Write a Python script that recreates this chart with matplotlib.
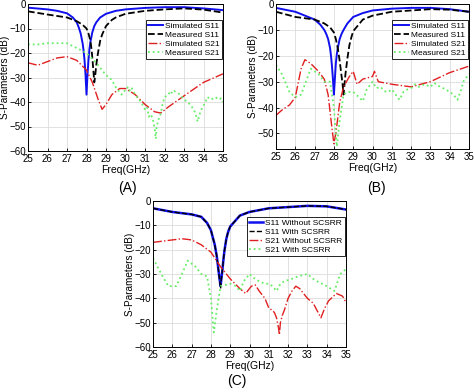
import matplotlib.pyplot as plt

plt.rcParams['font.family'] = ['Liberation Sans', 'DejaVu Sans']

# ---------- panel A ----------
a_s11_sim_f = [25, 26, 26.5, 27, 27.3, 27.5, 27.6, 27.7, 27.8, 27.85, 27.9, 27.95, 28.0, 28.05, 28.1, 28.15, 28.2, 28.3,
               28.4, 28.5, 28.7, 29, 29.5, 30, 31, 32, 33, 34, 35]
a_s11_sim = [-1.5, -2.2, -2.8, -3.8, -5.5, -7.5, -9.5, -12, -16, -19, -23, -29, -37, -29, -23, -18.5, -15.5, -11.5,
             -9, -7.5, -5.5, -4, -2.8, -2.2, -1.6, -1.3, -1.3, -1.8, -2.5]
a_s11_meas_f = [25, 26, 27, 27.5, 27.8, 28, 28.1, 28.2, 28.25, 28.3, 28.35, 28.4, 28.45, 28.5, 28.55, 28.6, 28.7, 28.8,
                29, 29.3, 29.5, 30, 31, 32, 33, 34, 35]
a_s11_meas = [-3, -4.3, -5.5, -7, -8.5, -10, -12, -15, -18, -22, -27, -32, -29, -25, -22, -19.5, -15, -12.5,
              -9, -6.5, -5.5, -4, -2.8, -2.2, -1.8, -2.3, -3.5]
a_s21_sim_f = [25, 25.5, 26, 26.5, 27, 27.5, 28, 28.3, 28.6, 28.8, 29.0, 29.3, 29.7, 30.0, 30.5, 31, 31.5, 31.8, 32.2, 33, 34, 35]
a_s21_sim = [-24, -25, -23.5, -22, -21.5, -23, -27, -32, -39, -43, -41, -37, -34.5, -34.5, -37, -41, -44, -44.5, -42, -37.5, -32, -28.5]
a_s21_meas_f = [25, 25.5, 26, 26.5, 27, 27.5, 28, 28.5, 29, 29.3, 29.5, 29.8, 30.0, 30.1, 30.2, 30.3, 30.5, 30.8, 31, 31.1, 31.2, 31.3, 31.4,
                31.5, 31.55, 31.6, 31.7, 31.8, 31.9, 32.0, 32.2, 32.3, 32.4, 32.5, 32.6, 32.8, 33, 33.2, 33.5, 33.6, 33.7, 33.8,
                33.9, 34.1, 34.2, 34.4, 34.6, 34.8, 34.9, 35]
a_s21_meas = [-16.5, -16.5, -16, -16, -16, -18, -20, -24, -29, -31, -34, -37, -35, -34, -35.5, -34, -37, -40, -43, -42, -46, -45, -47,
              -51, -55, -50, -47, -45, -41, -38, -37, -35.5, -36.5, -35.5, -36, -37, -39, -40, -43, -45, -48, -45,
              -43, -40, -38, -39, -38, -39, -38.5, -40]

# ---------- panel B ----------
b_s11_sim_f = [25, 26, 26.5, 27, 27.3, 27.5, 27.6, 27.7, 27.8, 27.85, 27.9, 27.95, 28.0, 28.05, 28.1, 28.15, 28.2, 28.3,
               28.4, 28.5, 28.7, 29, 29.5, 30, 31, 32, 33, 34, 35]
b_s11_sim = [-1.5, -3, -4.5, -6, -8, -10, -11.5, -13.5, -17, -20, -24, -29, -35, -29, -23, -19.5, -17, -13.5,
             -11.5, -10, -7.5, -5, -3.5, -2.5, -1.8, -1.5, -1.5, -2, -3]
b_s11_meas_f = [25, 26, 27, 27.5, 27.8, 28, 28.1, 28.2, 28.3, 28.35, 28.4, 28.45, 28.5, 28.55, 28.6, 28.7, 28.8, 28.9,
                29, 29.5, 30, 31, 32, 33, 34, 35]
b_s11_meas = [-3, -5, -6, -7.5, -9, -11, -13.5, -17, -22, -25, -28, -31, -35, -31, -27, -21, -16, -13,
              -10.5, -6, -4.5, -3, -2.5, -2, -2.2, -3]
b_s21_sim_f = [25, 25.3, 25.7, 26, 26.3, 26.5, 26.8, 27.2, 27.5, 27.7, 27.9, 28.0, 28.1, 28.3, 28.5, 28.8, 29.0, 29.2, 29.5,
               30.0, 30.1, 30.3, 31, 32, 33, 34, 35]
b_s21_sim = [-43, -41, -39, -36, -25, -21.5, -23, -26, -29, -35, -48, -54, -50, -38, -32, -28, -26, -31, -29,
             -28, -26, -30, -31, -32, -30, -26.5, -24]
b_s21_meas_f = [25, 25.3, 25.7, 26, 26.3, 26.5, 26.8, 27.2, 27.5, 27.8, 28.0, 28.15, 28.3, 28.5, 28.7, 29, 29.3, 29.5, 29.7,
                30, 30.2, 30.4, 30.7, 30.9, 31, 31.2, 31.4, 31.6, 31.8, 32.0, 32.2, 32.4, 32.7, 33, 33.2, 33.5, 33.8,
                34, 34.2, 34.4, 34.6, 34.7, 35]
b_s21_meas = [-23.5, -27, -34, -36, -35, -31, -25, -27, -30, -30, -40, -55, -45, -35, -34, -34, -36, -37.5, -33,
              -30, -32.5, -32, -34, -33.5, -33, -35, -37, -34, -33, -32.5, -31, -32, -31, -32, -30.5, -32, -33,
              -34, -35, -37, -33, -30, -27]

# ---------- panel C ----------
c_s11_f = [25, 26, 26.5, 27, 27.5, 27.8, 28, 28.1, 28.2, 28.3, 28.35, 28.4, 28.45, 28.5, 28.55, 28.6, 28.65, 28.7, 28.8,
           28.9, 29, 29.5, 30, 31, 32, 33, 34, 35]
c_s11_without = [-3, -4.5, -5, -5.5, -6.5, -9, -12, -15, -18, -22.5, -25.5, -29, -32, -35, -31.5, -28, -24, -20.5, -15.5,
                 -12.5, -10.5, -6, -4.5, -3, -2.5, -2, -2.2, -3.5]
c_s11_with = [-3, -4.5, -5, -5.5, -6.5, -9, -12, -15, -18, -22.5, -25.5, -29, -32.5, -36, -31.5, -28, -24, -20.5, -15.5,
              -12.5, -10.5, -6, -4.5, -3, -2.5, -2, -2.2, -3.5]
c_s21_without_f = [25, 25.5, 26, 26.5, 27, 27.5, 28, 28.5, 29, 29.5, 29.8, 30.1, 30.3, 30.5, 30.8, 31, 31.2, 31.3, 31.4,
                   31.5, 31.55, 31.6, 31.7, 31.8, 32, 32.2, 32.4, 32.6, 33, 33.3, 33.5, 33.7, 33.9, 34.1, 34.5, 34.8, 34.9, 35]
c_s21_without = [-17, -16.5, -16, -15.5, -16, -18, -21, -27, -32, -36, -38, -35, -34.5, -37, -40, -44, -45, -46, -48,
                 -52, -55, -50, -47, -45, -40, -37, -35, -36, -40, -42, -45, -48, -44, -41, -38, -39, -40, -42]
c_s21_with_f = [25, 25.5, 25.8, 26.2, 26.5, 26.8, 27.2, 27.5, 27.8, 28.0, 28.15, 28.3, 28.5, 29, 29.3, 29.5, 29.7,
                30, 30.2, 30.5, 30.8, 31, 31.2, 31.4, 31.6, 31.8, 32.2, 32.5, 33, 33.3, 33.5, 34, 34.2, 34.4, 34.7, 35]
c_s21_with = [-23.5, -31, -35, -35, -30, -24.5, -27, -30, -31, -40, -54, -45, -35, -34, -35, -37, -33,
              -30, -31.5, -33, -34, -34, -35, -37, -34, -33, -32, -31, -30, -32, -33, -35, -36, -37, -30, -28]

W, H = 474, 392
fig = plt.figure(figsize=(W / 100, H / 100), dpi=100)

blue = '#1010ee'
red = '#e02020'
green = '#66ee66'


def make_ax(left, top, right, bottom, ylim, yticks):
    ax = fig.add_axes([left / W, 1 - bottom / H, (right - left) / W, (bottom - top) / H])
    ax.set_xlim(25, 35)
    ax.set_ylim(*ylim)
    ax.set_xticks(range(25, 36))
    ax.set_yticks(yticks)
    ax.grid(True, color='#dcdcdc', linewidth=0.6)
    ax.set_axisbelow(True)
    ax.tick_params(labelsize=7, direction='in', length=2, width=0.6, pad=1.2)
    ax.tick_params(axis='x', pad=2.5)
    for s in ax.spines.values():
        s.set_linewidth(0.7)
    ax.set_xlabel('Freq(GHz)', fontsize=7.5, labelpad=0.5)
    ax.set_ylabel('S-Parameters (dB)', fontsize=7.2, labelpad=0)
    return ax


def add_legend(ax, y):
    leg = ax.legend(loc='upper right', bbox_to_anchor=(1.0, y), fontsize=6, frameon=True, fancybox=False,
                    edgecolor='black', framealpha=1, borderpad=0.25, labelspacing=0.15, handlelength=1.7,
                    handletextpad=0.3, borderaxespad=0.15)
    leg.get_frame().set_linewidth(0.6)


axA = make_ax(28, 4, 223, 151, (-60, 0), range(-60, 1, 10))
axA.plot(a_s11_sim_f, a_s11_sim, color=blue, lw=1.4, label='Simulated S11')
axA.plot(a_s11_meas_f, a_s11_meas, 'k--', lw=1.3, label='Measured S11')
axA.plot(a_s21_sim_f, a_s21_sim, color=red, ls='-.', lw=1.0, label='Simulated S21')
axA.plot(a_s21_meas_f, a_s21_meas, color=green, ls=':', lw=1.3, label='Measured S21')
add_legend(axA, 0.9)
fig.text(127 / W, 1 - 188 / H, '(A)', ha='center', va='center', fontsize=10)

axB = make_ax(276, 4, 469, 149, (-56, 0), range(-50, 1, 10))
axB.plot(b_s11_sim_f, b_s11_sim, color=blue, lw=1.4, label='Simulated S11')
axB.plot(b_s11_meas_f, b_s11_meas, 'k--', lw=1.3, label='Measured S11')
axB.plot(b_s21_sim_f, b_s21_sim, color=red, ls='-.', lw=1.0, label='Simulated S21')
axB.plot(b_s21_meas_f, b_s21_meas, color=green, ls=':', lw=1.3, label='Measured S21')
add_legend(axB, 0.9)
fig.text(376 / W, 1 - 188 / H, '(B)', ha='center', va='center', fontsize=10)

axC = make_ax(153, 201, 346, 347, (-60, 0), range(-60, 1, 10))
axC.plot(c_s11_f, c_s11_without, color=blue, lw=1.8, label='S11 Without SCSRR')
axC.plot(c_s11_f, c_s11_with, 'k--', lw=1.0, label='S11 With SCSRR')
axC.plot(c_s21_without_f, c_s21_without, color=red, ls='-.', lw=1.0, label='S21 Without SCSRR')
axC.plot(c_s21_with_f, c_s21_with, color=green, ls=':', lw=1.3, label='S21 With SCSRR')
add_legend(axC, 0.9)
fig.text(237 / W, 1 - 381 / H, '(C)', ha='center', va='center', fontsize=10)

fig.savefig('out.png', dpi=100)
